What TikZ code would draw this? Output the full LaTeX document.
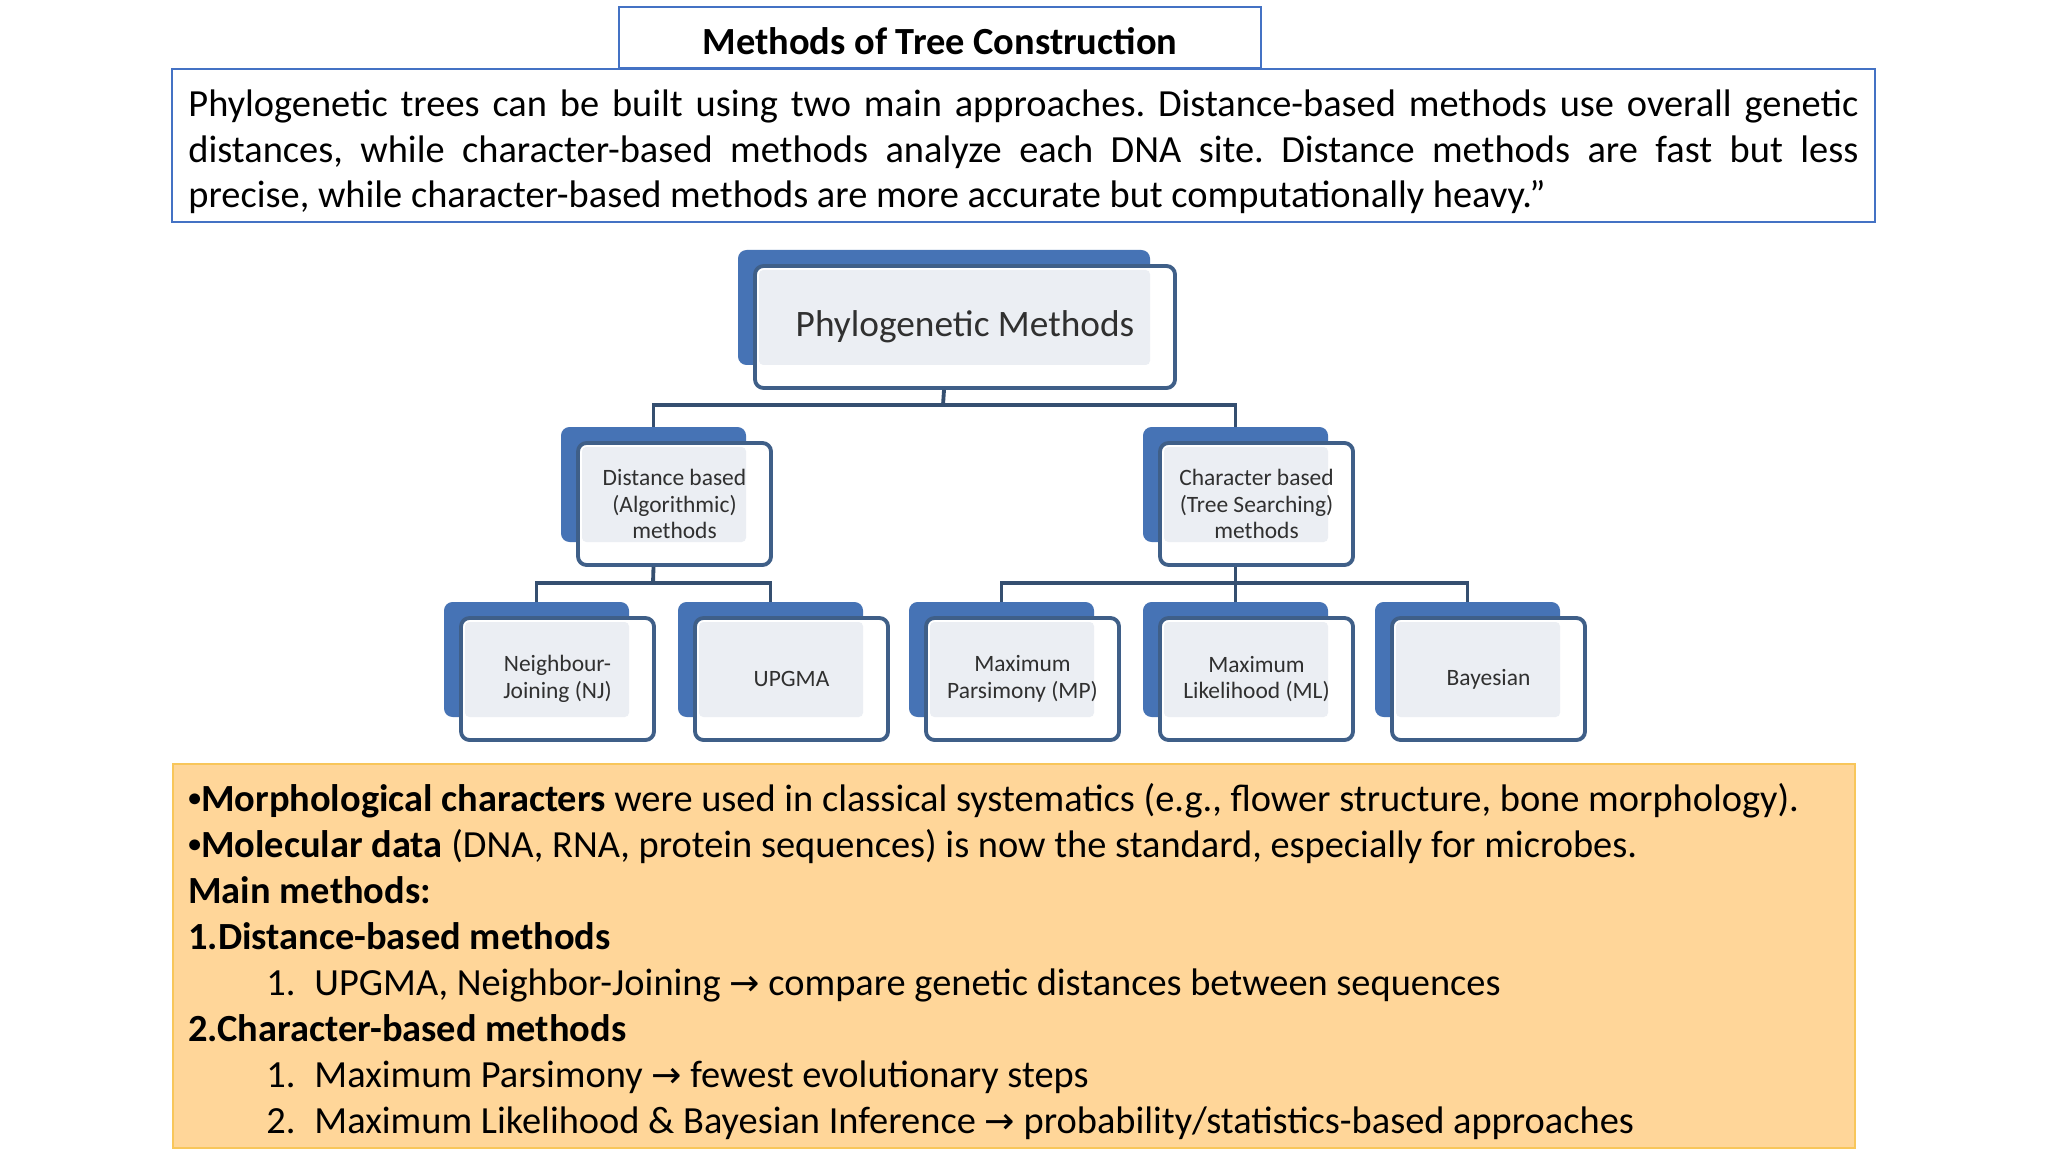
\documentclass[tikz,border=0pt]{standalone}
\usepackage{fontspec}
\setmainfont{Carlito}
\newfontfamily\arrowfont{DejaVu Sans}
\usetikzlibrary{fit}
\definecolor{boxblue}{HTML}{4472C4}
\definecolor{backblue}{HTML}{4673B5}
\definecolor{frontline}{HTML}{3F5F88}
\definecolor{connline}{HTML}{354F70}
\definecolor{innerfill}{HTML}{EBEEF3}
\definecolor{treegray}{HTML}{303030}
\definecolor{orangefill}{HTML}{FFD699}
\definecolor{orangeline}{HTML}{F8C65A}
\tikzset{
  backbox/.style={inner sep=0pt, fill=backblue, rounded corners=4pt},
  frontbox/.style={inner sep=0pt, fill=white, draw=frontline, line width=1.8pt, rounded corners=4pt},
  treetext/.style={inner sep=0pt, align=center, text=treegray, font=\fontsize{11}{12.4}\selectfont},
  conn/.style={draw=connline, line width=1.8pt},
  bodytext/.style={anchor=base west, inner sep=0pt, font=\fontsize{18}{21.4}\selectfont},
}
\newcommand\treebox[6]{%
  \coordinate (#1-b1) at (#2,#3);
  \coordinate (#1-b2) at ({#2+#4},{#3+#5});
  \coordinate (#1-f1) at ({#2+17},{#3+16});
  \coordinate (#1-f2) at ({#2+#4+25},{#3+#5+23});
  \node[backbox, fit=(#1-b1)(#1-b2)] (#1b) {};
  \node[frontbox, fit=(#1-f1)(#1-f2)] (#1) {};
  \fill[innerfill, rounded corners=2pt] ({#2+21},{#3+20}) rectangle ({#2+#4},{#3+#5});
  \node[treetext] (#1t) at (#1.center) {#6};
}
\newcommand\arr{{\arrowfont\fontsize{17}{17}\selectfont →}}
\newcommand\smallbul{\raisebox{0.12em}{\fontsize{12}{12}\selectfont\textbf{•}}}
\begin{document}
\begin{tikzpicture}[x=0.46875pt, y=-0.46875pt]
\useasboundingbox (0,0) rectangle (2048,1152);
\fill[white] (0,0) rectangle (2048,1152);

% title and paragraph
\coordinate (t1) at (619,7); \coordinate (t2) at (1261,68);
\node[fit=(t1)(t2), inner sep=0pt, draw=boxblue, line width=1pt] (titlebox) {};
\node[anchor=base, inner sep=0pt, font=\fontsize{18}{21.6}\selectfont\bfseries] (title) at (940,55) {Methods of Tree Construction};

\coordinate (p1) at (172,69); \coordinate (p2) at (1875,222);
\node[fit=(p1)(p2), inner sep=0pt, draw=boxblue, line width=1pt] (parabox) {};
\node[anchor=base west, inner sep=0pt, text width=782.8pt, align=justify, font=\fontsize{18}{21.2}\selectfont\frenchspacing] (para) at (188,117)
{Phylogenetic trees can be built using two main approaches. Distance-based methods use overall genetic\linebreak distances, while character-based methods analyze each DNA site. Distance methods are fast but less\linebreak precise, while character-based methods are more accurate but computationally heavy.”};

% connectors
\coordinate (j0) at (943,405);
\coordinate (j1) at (653,583);
\coordinate (j2) at (1235,583);

% tree boxes
\treebox{root}{738}{250}{412}{115}{\fontsize{17.5}{20}\selectfont Phylogenetic Methods}
\treebox{dist}{561}{427}{185}{115}{Distance based\\(Algorithmic)\\methods}
\treebox{char}{1143}{427}{185}{115}{Character based\\(Tree Searching)\\methods}
\treebox{nj}{444}{602}{185}{115}{Neighbour-\\Joining (NJ)}
\treebox{up}{678}{602}{185}{115}{UPGMA}
\treebox{mp}{909}{602}{185}{115}{Maximum\\Parsimony (MP)}
\treebox{ml}{1143}{602}{185}{115}{Maximum\\Likelihood (ML)}
\treebox{bay}{1375}{602}{185}{115}{Bayesian}

\draw[conn] (root.south -| rootb.center) -- (j0);
\draw[conn] (distb.north) |- (j0) -| (charb.north);
\draw[conn] (dist.south -| distb.center) -- (j1);
\draw[conn] (njb.north) |- (j1) -| (upb.north);
\draw[conn] (char.south -| charb.center) -- (mlb.north);
\draw[conn] (mpb.north) |- (j2) -| (bayb.north);

% bottom box
\coordinate (o1) at (173,764); \coordinate (o2) at (1855,1148);
\node[fit=(o1)(o2), inner sep=0pt, fill=orangefill, draw=orangeline, line width=0.8pt] (notes) {};
\node[bodytext] (l1) at (188,811) {\smallbul\textbf{Morphological characters} were used in classical systematics (e.g., flower structure, bone morphology).};
\node[bodytext] (l2) at (188,857) {\smallbul\textbf{Molecular data} (DNA, RNA, protein sequences) is now the standard, especially for microbes.};
\node[bodytext] (l3) at (188,903) {\textbf{Main methods:}};
\node[bodytext] (l4) at (188,949) {\textbf{1.Distance-based methods}};
\node[bodytext] (n5) at (266,995) {1.};
\node[bodytext] (l5) at (314,995) {UPGMA, Neighbor-Joining \arr{} compare genetic distances between sequences};
\node[bodytext] (l6) at (188,1041) {\textbf{2.Character-based methods}};
\node[bodytext] (n7) at (266,1087) {1.};
\node[bodytext] (l7) at (314,1087) {Maximum Parsimony \arr{} fewest evolutionary steps};
\node[bodytext] (n8) at (266,1133) {2.};
\node[bodytext] (l8) at (314,1133) {Maximum Likelihood \& Bayesian Inference \arr{} probability/statistics-based approaches};
\end{tikzpicture}
\end{document}
